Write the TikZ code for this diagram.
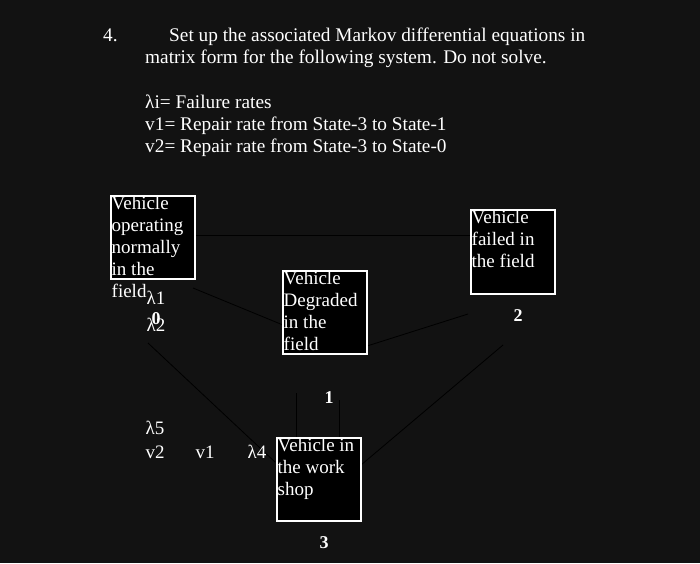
\documentclass[tikz,border=0pt]{standalone}
\usepackage{fontspec}
\setmainfont{Liberation Serif}
\begin{document}
\begin{tikzpicture}[x=1pt,y=-1pt,
  box/.style={draw=white,fill=black,line width=1.2pt},
  btxt/.style={text=white,anchor=north west,inner sep=0.5pt,align=left,font=\fontsize{19}{22}\selectfont},
  txt/.style={text=white,anchor=base west,inner sep=0pt,font=\fontsize{19.3}{22}\selectfont},
  lab/.style={text=white,anchor=base,inner sep=0pt,font=\fontsize{19}{20}\selectfont},
  num/.style={text=white,anchor=base,inner sep=0pt,font=\bfseries\fontsize{18}{20}\selectfont},
  conn/.style={draw=black,line width=0.8pt}]
\fill[fill=black!93] (0,0) rectangle (700,563);
\useasboundingbox (0,0) rectangle (700,563);
\node[txt] (t0) at (103,41) {4.};
\node[txt] (t1) at (169,41) {Set up the associated Markov differential equations in};
\node[txt] (t2) at (145,63) {matrix form for the following system. Do not solve.};
\node[txt] (t3) at (145,108) {λi= Failure rates};
\node[txt] (t4) at (145,130) {v1= Repair rate from State-3 to State-1};
\node[txt] (t5) at (145,152) {v2= Repair rate from State-3 to State-0};
% connectors
\coordinate (a1) at (195,235); \coordinate (a2) at (471,235);
\coordinate (b1) at (193,288); \coordinate (b2) at (283,325);
\coordinate (c1) at (367,346); \coordinate (c2) at (468,314);
\coordinate (d1) at (148,343); \coordinate (d2) at (275,462);
\coordinate (e1) at (296,393); \coordinate (e2) at (296,438);
\coordinate (f1) at (339,400); \coordinate (f2) at (339,438);
\coordinate (g1) at (361,465); \coordinate (g2) at (503,345);
\draw[conn] (a1)--(a2); \draw[conn] (b1)--(b2); \draw[conn] (c1)--(c2);
\draw[conn] (d1)--(d2); \draw[conn] (e1)--(e2); \draw[conn] (f1)--(f2);
\draw[conn] (g1)--(g2);
% boxes
\draw[box] (111,196) rectangle (195,279);
\draw[box] (283,271) rectangle (367,354);
\draw[box] (471,210) rectangle (555,294);
\draw[box] (277,438) rectangle (361,521);
\node[btxt] (s0) at (111,196) {Vehicle\\operating\\normally\\in the\\field};
\node[btxt] (s1) at (283,271) {Vehicle\\Degraded\\in the\\field};
\node[btxt] (s2) at (471,210) {Vehicle\\failed in\\the field};
\node[btxt] (s3) at (277,438) {Vehicle in\\the work\\shop};
% labels
\node[num] (n0) at (156,324) {0};
\node[lab] (l1) at (156,304) {λ1};
\node[lab] (l2) at (156,331) {λ2};
\node[num] (n1) at (329,403) {1};
\node[num] (n2) at (518,321) {2};
\node[num] (n3) at (324,548) {3};
\node[lab] (l5) at (155,434) {λ5};
\node[lab] (v2) at (155,458) {v2};
\node[lab] (v1) at (205,458) {v1};
\node[lab] (l4) at (257,458) {λ4};
\end{tikzpicture}
\end{document}
